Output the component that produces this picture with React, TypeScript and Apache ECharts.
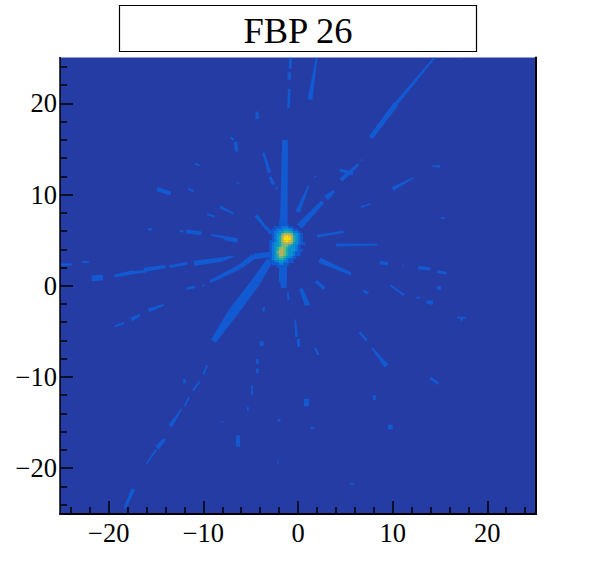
import React, { useEffect, useRef } from "react";
import * as echarts from "echarts";

const majorTicks = [-20, -10, 0, 10, 20];
const minorTicks = [-24, -22, -18, -16, -14, -12, -8, -6, -4, -2, 2, 4, 6, 8, 12, 14, 16, 18, 22, 24];
const titleText = "FBP 26";

// streak: [x0, y0, x1, y1, width0, width1] in axis units
const upperLeftStreaks = [
  [-0.77, 25, -0.85, 23.8, 0.28, 0.28], [-0.92, 23.4, -0.92, 22.6, 0.35, 0.35], [-0.92, 21.6, -1, 19.5, 0.28, 0.28],
  [-4.35, 19.1, -4.3, 18.3, 0.3, 0.38], [-7.1, 16.3, -6.8, 16, 0.25, 0.25], [-6.6, 15.8, -6.5, 14.7, 0.35, 0.35],
  [-3.66, 14.6, -3.0, 12.4, 0.25, 0.35], [-2.95, 11.95, -2.6, 11.1, 0.35, 0.35], [-2.25, 10.85, -2.25, 10.55, 0.2, 0.2],
  [-1.37, 16, -1.5, 7, 0.6, 0.8], [-1.5, 7, -1.6, 0.4, 0.8, 0.85],
  [-10.9, 13.4, -10.4, 13.2, 0.28, 0.2], [-6.5, 11.35, -6.2, 11.2, 0.14, 0.14], [-14.9, 10.6, -13.45, 10.1, 0.45, 0.4],
  [-11.6, 10.6, -11.05, 10.4, 0.28, 0.22], [-8.25, 8.66, -6.85, 7.9, 0.3, 0.2], [-9.6, 7.86, -8.8, 7.57, 0.2, 0.2],
  [-4.44, 7.75, -3.6, 6.6, 0.4, 0.3], [-3.6, 6.6, -2.8, 5.75, 0.3, 0.4],
  [-15.85, 6.2, -15.4, 6.2, 0.25, 0.25], [-12.5, 6, -12.1, 5.95, 0.2, 0.2], [-11.8, 5.95, -10.2, 5.75, 0.45, 0.4],
  [-9.2, 5.6, -7.8, 5.3, 0.15, 0.3], [-7.8, 5.25, -6.4, 4.95, 0.4, 0.5],
  [-25.1, 2.3, -23.9, 2.35, 0.28, 0.25], [-22.8, 2.6, -22.1, 2.6, 0.2, 0.2], [-21.8, 0.8, -20.6, 0.9, 0.6, 0.6],
  [-19.4, 1.07, -17.4, 1.5, 0.3, 0.4], [-17.7, 1.4, -16, 1.6, 0.3, 0.3], [-16.3, 1.75, -14, 2.1, 0.45, 0.35],
  [-13.6, 2.1, -11.7, 2.45, 0.28, 0.3], [-11, 2.45, -8, 2.9, 0.55, 0.45], [-8, 2.9, -6.8, 3.25, 0.45, 0.15],
  [-9.3, 0.45, -6.1, 2.1, 0.3, 0.5], [-6.1, 2.1, -4.7, 3.2, 0.5, 0.6], [-4.7, 3.2, -2.6, 3.45, 0.6, 0.6],
];
const lowerLeftStreaks = [
  [-2.96, 2.83, -4.44, 0.42, 0.7, 0.95], [-4.44, 0.42, -6.83, -2.87, 0.95, 1.05], [-6.83, -2.87, -8.94, -6.08, 1.05, 0.6],
  [-11.76, -0.3, -10.9, -0.13, 0.28, 0.28], [-10.1, 0, -9.9, 0.05, 0.2, 0.2], [-15.8, -2.7, -14.2, -2.1, 0.4, 0.2],
  [-17.6, -3.7, -16.7, -3.2, 0.4, 0.3], [-19.4, -4.45, -18.4, -4.1, 0.2, 0.25], [-3.55, -2.35, -3.7, -2.8, 0.2, 0.25],
  [-3.84, -6.1, -3.84, -6.6, 0.42, 0.42], [-4.3, -8.05, -4.3, -8.6, 0.28, 0.28], [-4.3, -9.1, -4.3, -9.6, 0.28, 0.28],
  [-4.86, -10.9, -4.86, -12, 0.18, 0.18], [-5.3, -13.3, -5.3, -13.7, 0.2, 0.2], [-9.6, -8.7, -10, -9.7, 0.18, 0.22],
  [-12, -10.2, -12, -10.7, 0.28, 0.28], [-10.4, -10.5, -11.1, -11.5, 0.18, 0.22], [-11.5, -12.2, -12, -13.2, 0.18, 0.18],
  [-12.3, -13.5, -13.5, -15.4, 0.12, 0.42], [-8, -14.85, -8, -15, 0.18, 0.18], [-14.1, -16.8, -14.9, -17.8, 0.3, 0.5],
  [-15, -18, -16, -19.5, 0.2, 0.15], [-17.4, -22.3, -18.3, -24.4, 0.42, 0.25], [-6.34, -16.4, -6.34, -17.65, 0.4, 0.4],
  [-2, -14.6, -2, -14.9, 0.28, 0.28], [-2.1, -19.1, -2.1, -19.6, 0.1, 0.1],
  [-1.55, 0.6, -1.5, -0.25, 0.65, 0.6], [-1.05, -0.7, -1, -1.6, 0.2, 0.2],
  [-0.3, -3.7, -0.15, -5.6, 0.15, 0.3], [0.03, -5.8, 0.07, -6.7, 0.3, 0.3],
];
const upperRightStreaks = [
  [1.97, 25, 1.27, 20.4, 0.2, 0.5], [14.4, 25, 10.4, 20, 0.2, 0.4], [10.4, 20, 7.7, 16.25, 0.55, 0.5],
  [17.2, 25, 17.2, 24.85, 0.15, 0.15], [14.2, 13.1, 15, 13.1, 0.1, 0.3], [12.2, 11.85, 10, 10.6, 0.12, 0.42],
  [6.76, 13.85, 6.76, 13.7, 0.18, 0.18], [6.4, 13.35, 4.54, 11.6, 0.25, 0.45], [4.4, 12.7, 5.8, 12.3, 0.3, 0.4],
  [1.83, 12.05, 1.83, 11.9, 0.22, 0.22], [3.84, 10.4, 2.96, 9.6, 0.3, 0.6], [1.13, 11, -0.03, 8.1, 0.15, 0.5],
  [2.6, 9.2, 0.14, 6.5, 0.4, 0.7], [7.7, 9.0, 6.65, 8.6, 0.12, 0.22], [15.1, 7.45, 15.5, 7.45, 0.18, 0.18],
  [4.8, 5.9, 2, 5.45, 0.25, 0.3], [8.4, 4.5, 4, 4.47, 0.18, 0.3], [2.25, 2.8, 5.6, 1.3, 0.55, 0.3],
  [8.65, 2.55, 9.5, 2.4, 0.35, 0.35], [11, 2.2, 11.2, 2.2, 0.1, 0.1], [12.7, 2, 14, 1.85, 0.4, 0.3],
  [14.7, 1.55, 15.7, 1.35, 0.3, 0.3],
];
const lowerRightStreaks = [
  [1.9, 0.5, 2.8, -0.3, 0.35, 0.35], [9.75, 0.05, 11.2, -1, 0.2, 0.2], [14.9, -0.05, 14.9, -0.45, 0.42, 0.42],
  [0.3, -0.3, 1, -2.15, 0.4, 0.55], [6.9, -0.57, 7.45, -0.8, 0.25, 0.25], [12.5, -1.3, 12.9, -1.3, 0.18, 0.18],
  [13.55, -1.8, 14.25, -1.85, 0.3, 0.5], [16.8, -3.5, 17.75, -3.5, 0.18, 0.18], [17.2, -3.6, 17.4, -3.75, 0.35, 0.35],
  [6.5, -5.1, 7.25, -6, 0.22, 0.22], [1.8, -6.8, 2.15, -7.6, 0.2, 0.25], [7.8, -6.8, 9.35, -8.8, 0.15, 0.5],
  [14, -10.1, 14.85, -10.75, 0.3, 0.3], [8.06, -12, 8.06, -12.55, 0.28, 0.28], [0.9, -12.4, 0.9, -13.2, 0.55, 0.55],
  [1.3, -15.6, 1.7, -15.6, 0.2, 0.2], [9.5, -15.5, 10, -15.5, 0.5, 0.45], [5.5, -21.7, 5.9, -21.7, 0.18, 0.18],
];

// core of the source, one level per 0.25-unit cell, from x = -3.5 and y = 7.25 downwards
const coreRows = [
  "......111..........",
  "......111..........",
  "......1111.........",
  "....11122211.......",
  "...11222333211.....",
  "...122334443221....",
  "...1233566653321...",
  "...1234678764321...",
  "...1234688864321...",
  "..11234678764321...",
  "..123345666533211..",
  "..1233455543321....",
  "..1234565433321....",
  "..12346654333211...",
  "..1235665433211....",
  "..1234665433211....",
  "..12345543321......",
  "..1233443211.......",
  "...122332211.......",
  "...1112211.........",
  ".....1111..........",
];
const coreLeft = -3.5;
const coreTop = 7.25;
const coreCell = 0.25;
const levelColors = ["#263ca5", "#125ad2", "#0f78dc", "#0c98d2", "#1fb3a6", "#6fc07a", "#c4b558", "#f0c82c", "#ffe600"];

const streaks = [...upperLeftStreaks, ...lowerLeftStreaks, ...upperRightStreaks, ...lowerRightStreaks];
const coreCells: number[][] = [];
coreRows.forEach((row, j) => {
  row.split("").forEach((c, i) => {
    if (c !== ".") coreCells.push([coreLeft + i * coreCell, coreTop - j * coreCell, Number(c)]);
  });
});

const axisFont = { fontFamily: "Liberation Serif", fontSize: 26.5, color: "#000" };
const fmt = (v: number) => String(v).replace("-", "\u2212");

export default function App() {
  const ref = useRef<HTMLDivElement>(null);
  useEffect(() => {
    const chart = echarts.init(ref.current!, null, { renderer: "svg" });
    const hidden = { show: false };
    const noLine = { show: false, onZero: false };
    const base = (min: number, max: number) => ({ type: "value" as const, min, max, splitLine: hidden, z: 5 });
    const ticked = (vals: number[], len: number) => ({
      show: true, inside: true, length: len, customValues: vals, lineStyle: { color: "#000", width: 1.5 },
    });
    chart.setOption({
      animation: false,
      grid: { left: 60, top: 57.5, width: 476, height: 456.5, show: true, backgroundColor: levelColors[0], borderWidth: 0 },
      xAxis: [
        { ...base(-25.15, 25.15), position: "bottom",
          axisLine: { show: true, onZero: false, lineStyle: { color: "#000", width: 2 } },
          axisTick: hidden,
          axisLabel: { ...axisFont, margin: 5, customValues: majorTicks, formatter: fmt } },
        { ...base(-25.15, 25.15), position: "bottom", axisLine: noLine, axisLabel: hidden, axisTick: ticked(minorTicks, 7) },
        { ...base(-25.15, 25.15), position: "bottom", axisLine: noLine, axisLabel: hidden, axisTick: ticked(majorTicks, 13) },
      ],
      yAxis: [
        { ...base(-25.03, 25.03), position: "left",
          axisLine: { show: true, onZero: false, lineStyle: { color: "#000", width: 1.5 } },
          axisTick: hidden,
          axisLabel: { ...axisFont, margin: 3, customValues: majorTicks, formatter: fmt } },
        { ...base(-25.03, 25.03), position: "left", axisLine: noLine, axisLabel: hidden, axisTick: ticked(minorTicks, 7) },
        { ...base(-25.03, 25.03), position: "left", axisLine: noLine, axisLabel: hidden, axisTick: ticked(majorTicks, 13) },
        { ...base(-25.03, 25.03), position: "right",
          axisLine: { show: true, onZero: false, lineStyle: { color: "#000", width: 2 } }, axisLabel: hidden, axisTick: hidden },
      ],
      series: [
        {
          type: "custom", silent: true, clip: true, xAxisIndex: 0, yAxisIndex: 0, z: 1,
          data: streaks,
          encode: { x: [0, 2], y: [1, 3] },
          renderItem: (_p: any, api: any) => {
            const a = api.coord([api.value(0), api.value(1)]);
            const b = api.coord([api.value(2), api.value(3)]);
            const unit = api.size([1, 0])[0];
            const dx = b[0] - a[0], dy = b[1] - a[1];
            const len = Math.hypot(dx, dy) || 1;
            const nx = -dy / len, ny = dx / len;
            const h0 = (api.value(4) * unit) / 2, h1 = (api.value(5) * unit) / 2;
            return {
              type: "polygon",
              shape: { points: [
                [a[0] + nx * h0, a[1] + ny * h0], [b[0] + nx * h1, b[1] + ny * h1],
                [b[0] - nx * h1, b[1] - ny * h1], [a[0] - nx * h0, a[1] - ny * h0],
              ] },
              style: { fill: levelColors[1] },
            };
          },
        },
        {
          type: "custom", silent: true, clip: true, xAxisIndex: 0, yAxisIndex: 0, z: 2,
          data: coreCells,
          encode: { x: 0, y: 1 },
          renderItem: (_p: any, api: any) => {
            const x = api.value(0), y = api.value(1);
            const a = api.coord([x, y]);
            const b = api.coord([x + coreCell, y - coreCell]);
            const color = levelColors[api.value(2)];
            return {
              type: "rect",
              shape: { x: a[0], y: a[1], width: b[0] - a[0], height: b[1] - a[1] },
              style: { fill: color, stroke: color, lineWidth: 0.4 },
            };
          },
        },
      ],
      graphic: [
        { type: "rect", shape: { x: 119.5, y: 5.5, width: 357, height: 46 }, style: { fill: "#fff", stroke: "#000", lineWidth: 1.2 } },
        { type: "text", x: 298, y: 30, style: { text: titleText, font: "36.5px 'Liberation Serif'", fill: "#000", textAlign: "center", textVerticalAlign: "middle" } },
      ],
    });
    return () => chart.dispose();
  }, []);
  return <div ref={ref} style={{ position: "fixed", left: 0, top: 0, width: 596, height: 572, background: "#fff" }} />;
}
